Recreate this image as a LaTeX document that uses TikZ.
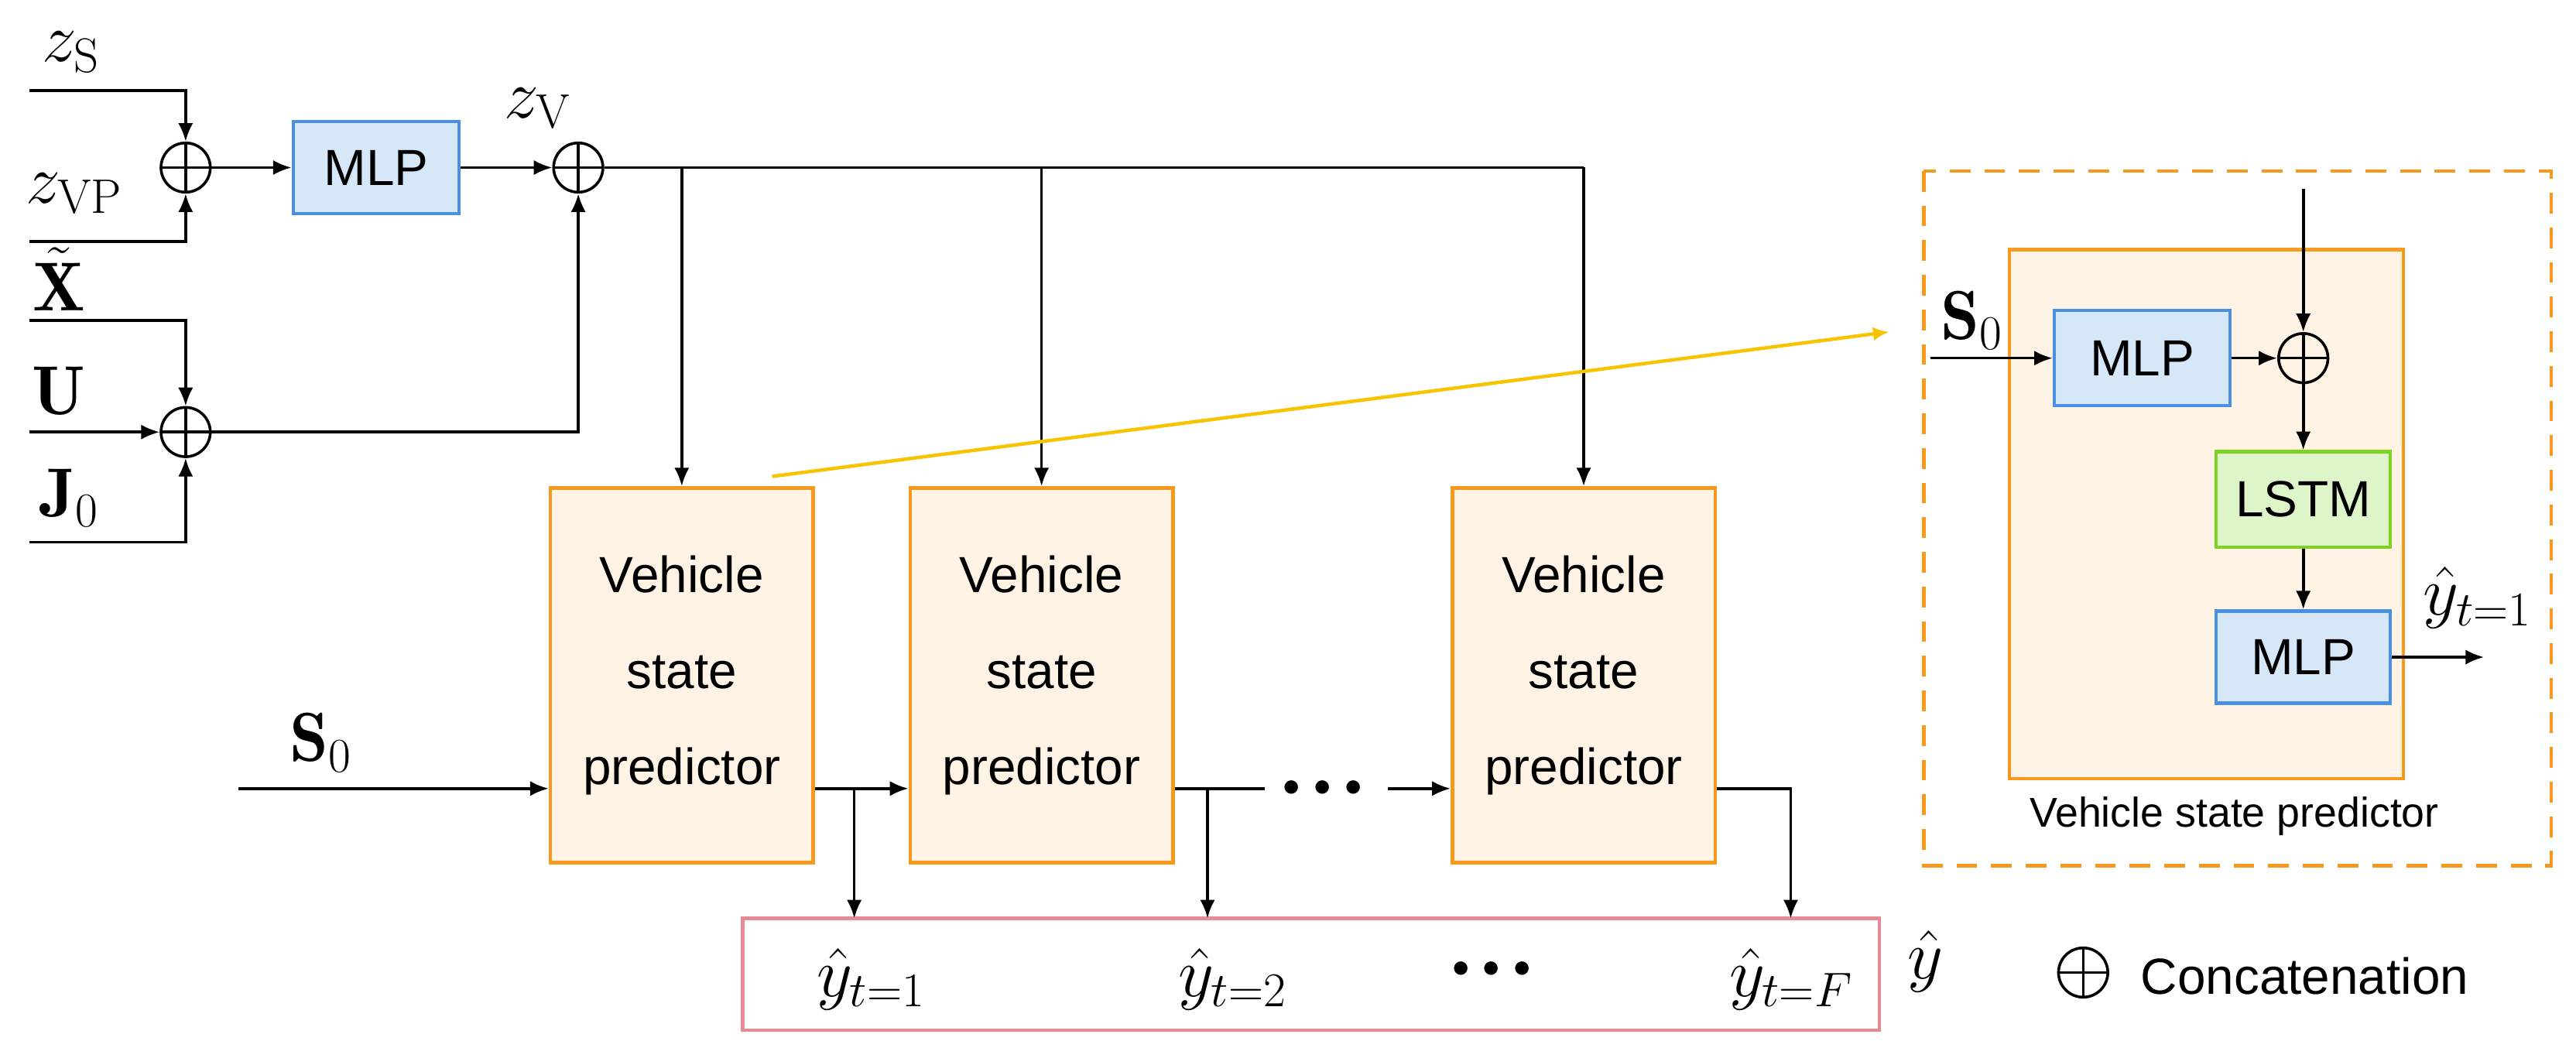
\RequirePackage{fix-cm}
\documentclass[tikz,border=0pt]{standalone}
\usepackage{fontspec}
\setsansfont{Liberation Sans}
\usetikzlibrary{arrows.meta}
\definecolor{bfill}{HTML}{D6E8F8}
\definecolor{bdraw}{HTML}{4A90E2}
\definecolor{ofill}{HTML}{FFF3E6}
\definecolor{odraw}{HTML}{F7991F}
\definecolor{gfill}{HTML}{DDF5C9}
\definecolor{gdraw}{HTML}{7ED321}
\definecolor{pdraw}{HTML}{E88A95}
\definecolor{yarrow}{HTML}{F8C300}
\begin{document}
\begin{tikzpicture}[x=0.5mm,y=-0.5mm,line width=2.4pt,
  every node/.style={font=\sffamily\fontsize{44}{52}\selectfont},
  arr/.style={-{Latex[length=16pt,width=13pt]}},
  mlp/.style={draw=bdraw,fill=bfill,line width=3pt,minimum width=50.5mm,minimum height=28mm,inner sep=0pt},
  lstm/.style={draw=gdraw,fill=gfill,line width=3pt,minimum width=53mm,minimum height=29mm,inner sep=0pt},
  vsp/.style={draw=odraw,fill=ofill,line width=3pt,minimum width=80mm,minimum height=114mm,align=center,inner sep=0pt,font=\sffamily\fontsize{44}{83}\selectfont},
  cat/.style={circle,draw,minimum size=15mm,inner sep=0pt,line width=2.4pt,
    path picture={\draw[line width=2.4pt] (path picture bounding box.north)--(path picture bounding box.south) (path picture bounding box.west)--(path picture bounding box.east);}},
  lab/.style={font=\fontsize{60}{64}\selectfont,inner sep=0pt},
  dots/.style={font=\fontsize{30}{30}\selectfont}
]
\useasboundingbox (0,0) rectangle (1568,637.6);
% left inputs
\node[lab] at (43,32) {$z_{\mathrm{S}}$};
\node[lab] at (45,118) {$z_{\mathrm{VP}}$};
\node[lab] at (36,170) {$\tilde{\mathbf{X}}$};
\node[lab] at (36,238) {$\mathbf{U}$};
\node[lab] at (42,303) {$\mathbf{J}_0$};
\node[lab] at (327,66) {$z_{\mathrm{V}}$};
\coordinate (zs) at (18,55);
\coordinate (zvp) at (18,147);
\coordinate (xt) at (18,195);
\coordinate (u) at (18,263);
\coordinate (j0) at (18,330);
\node[cat] (c1) at (113,102) {};
\node[mlp] (m1) at (229,102) {MLP};
\node[cat] (c2) at (352,102) {};
\node[cat] (c3) at (113,263) {};
\draw[arr] (zs) -| (c1);
\draw[arr] (zvp) -| (c1);
\draw[arr] (c1) -- (m1);
\draw[arr] (m1) -- (c2);
\draw[arr] (xt) -| (c3);
\draw[arr] (j0) -| (c3);
\draw[arr] (u) -- (c3);
\draw[arr] (c3) -| (c2);
% predictors
\node[vsp] (v1) at (415,411) {Vehicle\\state\\predictor};
\node[vsp] (v2) at (634,411) {Vehicle\\state\\predictor};
\node[vsp] (v3) at (964,411) {Vehicle\\state\\predictor};
\coordinate (top) at (964,102);
\draw (c2) -- (top);
\draw[arr] (415,102) -- (v1);
\draw[arr] (634,102) -- (v2);
\draw[arr] (top) -- (v3);
\node[lab] at (195,452) {$\mathbf{S}_0$};
\coordinate (s0) at (145,480);
\draw[arr] (s0) -- (v1.west|-s0);
\draw[arr] (v1.east|-s0) -- (v2.west|-s0);
\draw (v2.east|-s0) -- (770,480);
\node[dots] (d1) at (805,480) {$\bullet\,\bullet\,\bullet$};
\draw[arr] (845,480) -- (v3.west|-s0);
% output box
\node[draw=pdraw,line width=3pt,minimum width=346mm,minimum height=34mm,inner sep=0pt] (out) at (798,593) {};
\draw[arr] (520,480) -- (520,559);
\draw[arr] (735,480) -- (735,559);
\draw[arr] (v3.east|-s0) -| (1090,559);
\node[lab] at (530,596) {$\hat{y}_{t=1}$};
\node[lab] at (750,596) {$\hat{y}_{t=2}$};
\node[dots] at (908,590) {$\bullet\,\bullet\,\bullet$};
\node[lab] at (1090,596) {$\hat{y}_{t=F}$};
\node[lab] at (1172,585) {$\hat{y}$};
\node[cat] (leg) at (1268,592) {};
\node[anchor=west] at (1300,594) {Concatenation};
% detail
\draw[odraw,line width=3pt,dash pattern=on 18pt off 12pt] (1171,104) rectangle (1553,527);
\node[draw=odraw,fill=ofill,line width=3pt,minimum width=120mm,minimum height=161mm,inner sep=0pt] (big) at (1343,313) {};
\node at (1360,497) {\fontsize{36}{40}\selectfont Vehicle state predictor};
\draw[yarrow,line width=3pt,-{Latex[length=14pt,width=12pt]}] (470,290) -- (1150,202);
\node[lab] at (1200,195) {$\mathbf{S}_0$};
\coordinate (s0b) at (1175,218);
\node[mlp,minimum width=53.5mm,minimum height=29mm] (m2) at (1304,218) {MLP};
\node[cat] (c4) at (1402,218) {};
\coordinate (tb) at (1402,115);
\node[lstm] (l1) at (1402,304) {LSTM};
\node[mlp,minimum width=53mm,minimum height=28mm] (m3) at (1402,400) {MLP};
\coordinate (yo) at (1512,400);
\draw[arr] (s0b) -- (m2);
\draw[arr] (m2) -- (c4);
\draw[arr] (tb) -- (c4);
\draw[arr] (c4) -- (l1);
\draw[arr] (l1) -- (m3);
\draw[arr] (m3) -- (yo);
\node[lab] at (1508,364) {$\hat{y}_{t=1}$};
\end{tikzpicture}
\end{document}
